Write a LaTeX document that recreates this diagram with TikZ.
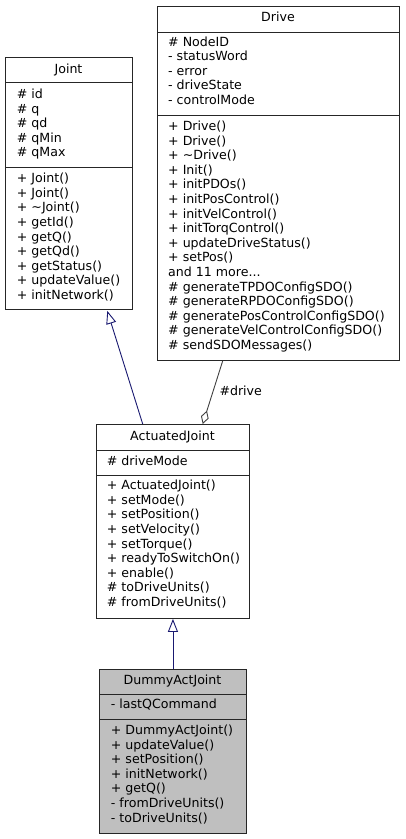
\documentclass[tikz,border=0pt]{standalone}
\usepackage{fontspec}
\setmainfont{DejaVu Sans}
\usetikzlibrary{arrows.meta,calc}
\definecolor{edgeblue}{HTML}{191970}
\definecolor{edgegray}{HTML}{404040}
\definecolor{curfill}{HTML}{BFBFBF}
\newcommand{\umlfont}{\fontsize{12.6}{14.6}\selectfont}
\newcommand{\classmembers}[4]{%
  \foreach \t [count=\i] in {#4} {%
    \node[member] (#1-\i) at (#2pt, {-(#3+(\i-1)*14.6)*1pt}) {\t};}%
}
\tikzset{
  classbox/.style={draw=black!85, line width=0.9pt, fill=white, inner sep=0pt, anchor=north west},
  sepline/.style={draw=black!85, line width=0.9pt},
  member/.style={anchor=base west, inner sep=0pt, font=\umlfont},
  ctitle/.style={anchor=base, inner sep=0pt, font=\umlfont},
  inherit/.style={draw=edgeblue, line width=0.9pt, -{Triangle[open, length=13pt, width=10pt]}},
  aggr/.style={draw=edgegray, line width=0.9pt, -{Diamond[open, length=14pt, width=8pt]}},
  elabel/.style={anchor=base west, inner sep=0pt, font=\umlfont},
}
\begin{document}
\begin{tikzpicture}[x=1pt,y=1pt]
\useasboundingbox (0,0) rectangle (405,-839);
% Joint
\node[classbox, minimum width=127pt, minimum height=252pt] (joint) at (5,-57) {};
\draw[sepline] (joint.west |- 0,-82) -- (joint.east |- 0,-82);
\draw[sepline] (joint.west |- 0,-167) -- (joint.east |- 0,-167);
\node[ctitle] (joint-t) at (68.5,-73.2) {Joint};
\classmembers{joint-a}{16.7}{98.4}{{\# id},{\# q},{\# qd},{\# qMin},{\# qMax}}
\classmembers{joint-m}{16.7}{182.7}{{+ Joint()},{+ Joint()},{+ \textasciitilde Joint()},{+ getId()},{+ getQ()},{+ getQd()},{+ getStatus()},{+ updateValue()},{+ initNetwork()}}
% Drive
\node[classbox, minimum width=242pt, minimum height=354pt] (drive) at (157,-6) {};
\draw[sepline] (drive.west |- 0,-32) -- (drive.east |- 0,-32);
\draw[sepline] (drive.west |- 0,-115) -- (drive.east |- 0,-115);
\node[ctitle] (drive-t) at (278,-21) {Drive};
\classmembers{drive-a}{168}{46}{{\# NodeID},{- statusWord},{- error},{- driveState},{- controlMode}}
\classmembers{drive-m}{168}{130.4}{{+ Drive()},{+ Drive()},{+ \textasciitilde Drive()},{+ Init()},{+ initPDOs()},{+ initPosControl()},{+ initVelControl()},{+ initTorqControl()},{+ updateDriveStatus()},{+ setPos()},{and 11 more.{}.{}.},{\# generateTPDOConfigSDO()},{\# generateRPDOConfigSDO()},{\# generatePosControlConfigSDO()},{\# generateVelControlConfigSDO()},{\# sendSDOMessages()}}
% ActuatedJoint
\node[classbox, minimum width=153pt, minimum height=194pt] (actj) at (96,-424) {};
\draw[sepline] (actj.west |- 0,-450) -- (actj.east |- 0,-450);
\draw[sepline] (actj.west |- 0,-475) -- (actj.east |- 0,-475);
\node[ctitle] (actj-t) at (172.5,-440.4) {ActuatedJoint};
\classmembers{actj-a}{106.7}{465.4}{{\# driveMode}}
\classmembers{actj-m}{106.7}{489.7}{{+ ActuatedJoint()},{+ setMode()},{+ setPosition()},{+ setVelocity()},{+ setTorque()},{+ readyToSwitchOn()},{+ enable()},{\# toDriveUnits()},{\# fromDriveUnits()}}
% DummyActJoint
\node[classbox, fill=curfill, minimum width=147pt, minimum height=164pt] (dummy) at (99,-669) {};
\draw[sepline] (dummy.west |- 0,-694) -- (dummy.east |- 0,-694);
\draw[sepline] (dummy.west |- 0,-719) -- (dummy.east |- 0,-719);
\node[ctitle] (dummy-t) at (172.5,-684.4) {DummyActJoint};
\classmembers{dummy-a}{110.7}{708.7}{{- lastQCommand}}
\classmembers{dummy-m}{110.7}{734.4}{{+ DummyActJoint()},{+ updateValue()},{+ setPosition()},{+ initNetwork()},{+ getQ()},{- fromDriveUnits()},{- toDriveUnits()}}
% connectors
\draw[inherit] ($(actj.north west)+(46.7,0)$) -- ($(joint.south west)+(102.3,-1)$);
\draw[aggr] ($(drive.south west)+(65.7,0)$) -- ($(actj.north west)+(106.7,0)$);
\node[elabel] (drive-lbl) at (219.3,-395.5) {\#drive};
\draw[inherit] (dummy.north) -- (actj.south);
\end{tikzpicture}
\end{document}
